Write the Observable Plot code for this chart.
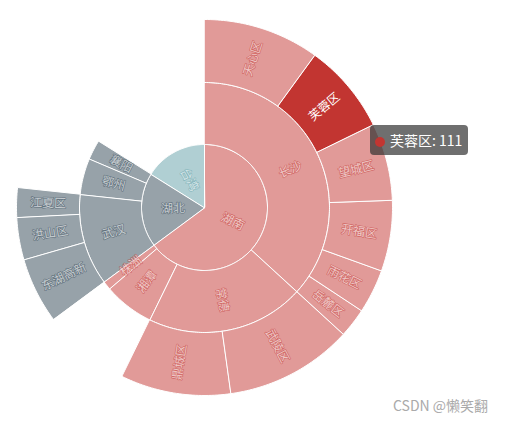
<!DOCTYPE html>
<html><head><meta charset="utf-8">
<script src="https://cdn.jsdelivr.net/npm/d3@7"></script>
<script src="https://cdn.jsdelivr.net/npm/@observablehq/plot@0.6"></script>
<style>
body{margin:0;background:#fff;font-family:"Noto Sans CJK SC","Noto Sans",sans-serif;}
#wrap{position:relative;width:508px;height:423px;overflow:hidden;}
#chart svg{display:block;}
#tip{position:absolute;left:370px;top:125px;height:30px;padding:0 6px 0 5px;background:rgba(50,50,50,0.7);border-radius:4px;color:#fff;font-size:14px;line-height:30px;white-space:nowrap;}
#tip .dot{display:inline-block;width:10px;height:10px;border-radius:5px;background:#c23531;margin-right:5px;vertical-align:-1px;}
#cap{position:absolute;left:393px;top:395px;font-size:14px;color:#aaa;white-space:nowrap;}
</style></head><body>
<div id="wrap"><div id="chart"></div><div id="tip"><span class="dot"></span>芙蓉区: 111</div><div id="cap">CSDN @懒笑翻</div></div>
<script>
const provinces = ["湖南","湖北","台湾"];
const provinceColors = ["#c23531","#2f4554","#61a0a8"];
const fadedColors = ["#e19a98","#97a2a9","#b0cfd3"];
const cities = ["长沙","常德","湘潭","株洲","武汉","鄂州","襄阳"];
const cityProvince = ["湖南","湖南","湖南","湖南","湖北","湖北","湖北"];
const districts = ["天心区","芙蓉区","望城区","开福区","雨花区","岳麓区","武陵区","鼎城区","东湖高新","洪山区","江夏区"];
const districtCity = ["长沙","长沙","长沙","长沙","长沙","长沙","常德","常德","武汉","武汉","武汉"];
const districtValues = [143,111,95,87,54,36,157,135,81,52,36];
const leafCities = ["湘潭","株洲","鄂州","襄阳"];
const leafCityValues = [93,16,67,36];
const leafProvinces = ["台湾"];
const leafProvinceValues = [230];
const ringRadii = [0,63,125,188];
const highlighted = "芙蓉区";

// build hierarchy from the arrays
const tree = {name:"root", children: provinces.map(p => {
  const li = leafProvinces.indexOf(p);
  if (li >= 0) return {name:p, value:leafProvinceValues[li]};
  return {name:p, children: cities.filter((c,i)=>cityProvince[i]===p).map(c => {
    const ci = leafCities.indexOf(c);
    if (ci >= 0) return {name:c, value:leafCityValues[ci]};
    return {name:c, children: districts.map((d,i)=>({d,i})).filter(o=>districtCity[o.i]===c).map(o=>({name:o.d, value:districtValues[o.i]}))};
  })};
})};
const root = d3.hierarchy(tree).sum(d => d.value || 0).sort((a,b)=>b.value-a.value);
d3.partition().size([2*Math.PI, 1])(root);

const nodes = root.descendants().filter(n => n.depth > 0);
const pts = [];
const labels = [];
nodes.forEach((n, k) => {
  const top = n.ancestors().find(a => a.depth === 1);
  const pi = provinces.indexOf(top.data.name);
  const hi = n.data.name === highlighted;
  const fill = hi ? provinceColors[pi] : fadedColors[pi];
  const r0 = ringRadii[n.depth-1], r1 = ringRadii[n.depth];
  const steps = Math.max(2, Math.ceil((n.x1-n.x0)/(Math.PI/180)));
  for (let s=0; s<=steps; s++) {
    const a = n.x0 + (n.x1-n.x0)*s/steps;
    pts.push({id:k, x:r1*Math.sin(a), y:r1*Math.cos(a), fill});
  }
  if (r0 > 0) {
    for (let s=steps; s>=0; s--) {
      const a = n.x0 + (n.x1-n.x0)*s/steps;
      pts.push({id:k, x:r0*Math.sin(a), y:r0*Math.cos(a), fill});
    }
  } else {
    pts.push({id:k, x:0, y:0, fill});
  }
  const m = (n.x0+n.x1)/2, rm = (r0+r1)/2, deg = m*180/Math.PI;
  labels.push({name:n.data.name, x:rm*Math.sin(m), y:rm*Math.cos(m),
    rotate: deg < 180 ? deg-90 : deg-270,
    stroke: provinceColors[pi], fo: hi ? 1 : 0.65, so: hi ? 1 : 0.5});
});

const svg = Plot.plot({
  width:508, height:423, margin:0,
  x:{domain:[-204,304], axis:null},
  y:{domain:[-216,207], axis:null},
  marks:[
    Plot.line(pts, {x:"x", y:"y", z:"id", fill:"fill", stroke:"#fff", strokeWidth:1, curve:"linear-closed"}),
    Plot.text(labels, {x:"x", y:"y", text:"name", rotate:"rotate", fill:"#fff", stroke:"stroke", strokeWidth:1.3,
      fillOpacity:"fo", strokeOpacity:"so", fontSize:12, fontFamily:"Noto Sans CJK SC"})
  ]
});
document.getElementById("chart").appendChild(svg);
</script>
</body></html>
